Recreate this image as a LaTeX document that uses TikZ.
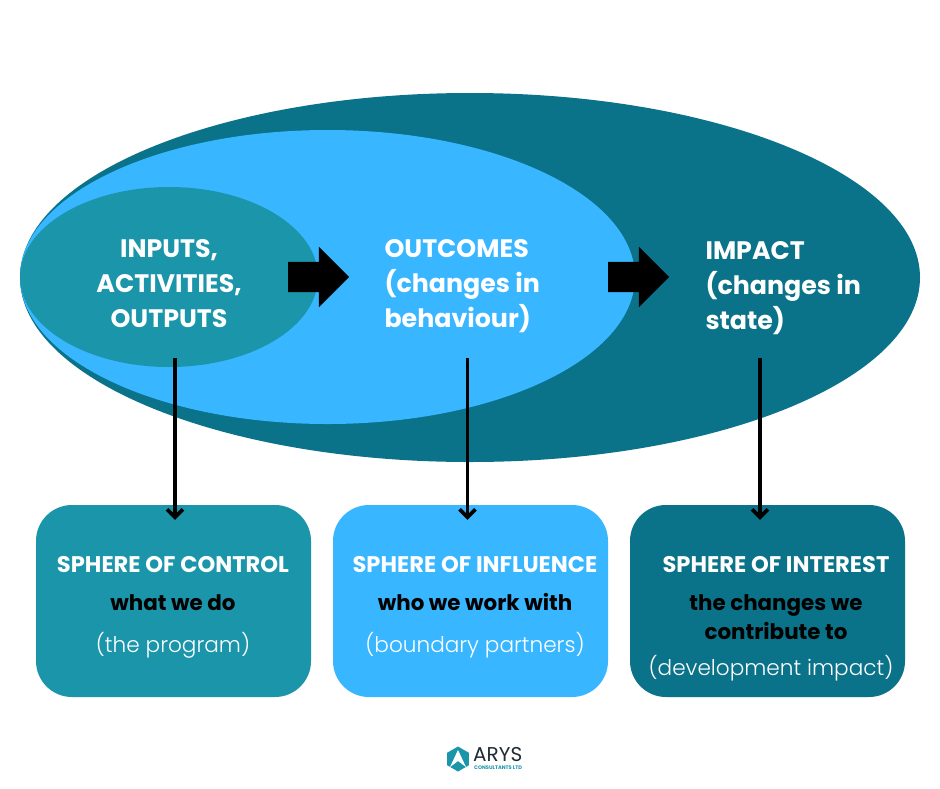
\documentclass[tikz,border=0pt]{standalone}
\usepackage{fontspec}
\setmainfont{Poppins}
\newfontfamily\lightfont{Poppins Light}
\usetikzlibrary{arrows.meta,shapes.arrows,shapes.geometric}
\definecolor{ctrlteal}{HTML}{1B95AA}
\definecolor{inflblue}{HTML}{38B6FF}
\definecolor{intrteal}{HTML}{0A7389}
\definecolor{logoink}{HTML}{1F2A33}
\tikzset{
    sphere/.style={ellipse,inner sep=0pt},
    spherebox/.style={draw=none,rounded corners=36pt,minimum width=275pt,minimum height=192pt,inner sep=0pt},
    bigarrow/.style={single arrow,fill=black,inner xsep=0pt,inner ysep=15pt,minimum height=61pt,
        single arrow head extend=15pt,single arrow head indent=0pt},
    link/.style={line width=3.6pt,-{Straight Barb[length=8pt,width=16pt,line width=3.6pt]}},
    mainlabel/.style={text=white,font=\fontsize{25.3}{35}\selectfont\bfseries,align=left},
    boxhead/.style={text=white,font=\fontsize{22.6}{24}\selectfont\bfseries},
    boxsub/.style={text=black,font=\fontsize{21.4}{24}\selectfont\bfseries},
    boxnote/.style={text=white,font=\fontsize{21.6}{24}\selectfont\lightfont},
}
\begin{document}
\begin{tikzpicture}[x=1pt,y=-1pt]
        \useasboundingbox[fill=white] (0,0) rectangle (940,788);

        \node[sphere,fill=intrteal,minimum width=900pt,minimum height=369pt] (interest) at (470,277.5) {};
        \node[sphere,fill=inflblue,minimum width=615pt,minimum height=294pt] (influence) at (327.5,277) {};
        \node[sphere,fill=ctrlteal,minimum width=298pt,minimum height=180pt] (control) at (169,277) {};

        \node[mainlabel,align=center] (controltext) at (169,284) {INPUTS,\\ACTIVITIES,\\OUTPUTS};
        \node[mainlabel,anchor=west] (influencetext) at (381,286) {OUTCOMES\\(changes in\\behaviour)};
        \node[mainlabel,anchor=west] (interesttext) at (702,288) {IMPACT\\(changes in\\state)};

        \node[bigarrow] (arrowone) at (311,277) {};
        \node[bigarrow] (arrowtwo) at (631,277) {};

        \node[spherebox,fill=ctrlteal] (controlbox) at (173.5,601) {};
        \node[spherebox,fill=inflblue] (influencebox) at (470.5,601) {};
        \node[spherebox,fill=intrteal] (interestbox) at (767.5,601) {};

        \node[boxhead] (controlhead) at (173,565) {SPHERE OF CONTROL};
        \node[boxsub] (controlsub) at (173,603) {what we do};
        \node[boxnote] (controlnote) at (173,645) {(the program)};

        \node[boxhead] (influencehead) at (475,565) {SPHERE OF INFLUENCE};
        \node[boxsub] (influencesub) at (475,602) {who we work with};
        \node[boxnote] (influencenote) at (475,645) {(boundary partners)};

        \node[boxhead] (interesthead) at (776,565) {SPHERE OF INTEREST};
        \node[boxsub,align=center,font=\fontsize{21.4}{28.5}\selectfont\bfseries] (interestsub) at (776,617) {the changes we\\contribute to};
        \node[boxnote] (interestnote) at (771,668) {(development impact)};

        \coordinate (controlstart) at (175,358);
        \coordinate (influencestart) at (467.5,358);
        \coordinate (intereststart) at (760,358);

        \draw[link] (controlstart) -- ([yshift=-15pt]controlstart |- controlbox.north);
        \draw[link] (influencestart) -- ([yshift=-15pt]influencestart |- influencebox.north);
        \draw[link] (intereststart) -- ([yshift=-15pt]intereststart |- interestbox.north);

        \node[regular polygon,regular polygon sides=6,shape border rotate=30,fill=ctrlteal,minimum size=25pt,inner sep=0pt] (logomark) at (458,759) {};
        \fill[white] (458,750) -- (466,767) -- (458,761) -- (450,767) -- cycle;
        \node[text=logoink,font=\fontsize{20}{20}\selectfont,anchor=west,inner sep=0pt] (logoname) at (473,754) {ARYS};
        \node[text=ctrlteal,font=\fontsize{5.1}{6}\selectfont\bfseries,anchor=west,inner sep=0pt] (logosub) at (474,768) {CONSULTANTS LTD};
\end{tikzpicture}
\end{document}
